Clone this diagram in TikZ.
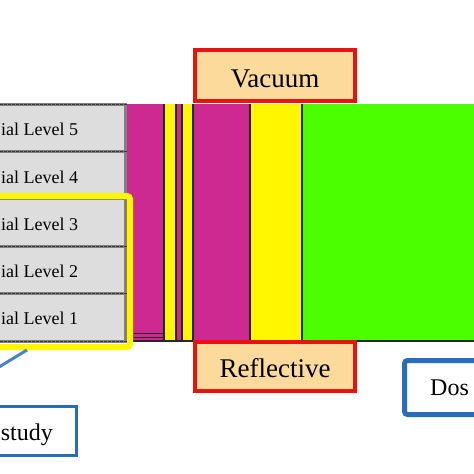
\documentclass[tikz,border=0pt]{standalone}
\usepackage{fontspec}
\setmainfont{Liberation Serif}
\definecolor{mag}{RGB}{205,42,145}
\definecolor{yel}{RGB}{255,246,0}
\definecolor{grn}{RGB}{76,255,0}
\definecolor{greyF}{RGB}{221,221,221}
\definecolor{greyB}{RGB}{128,128,128}
\definecolor{orangeF}{RGB}{251,218,156}
\definecolor{redB}{RGB}{232,18,16}
\definecolor{blueB}{RGB}{42,108,188}
\definecolor{sepC}{RGB}{55,55,55}
\begin{document}
\begin{tikzpicture}[x=1pt,y=-1pt,
  levelbox/.style={draw=greyB, line width=3pt, fill=greyF, minimum width=180pt, minimum height=47.4pt, inner sep=0pt, anchor=east},
  leveltxt/.style={anchor=base west, inner sep=0pt, font=\fontsize{18}{20}\selectfont},
  sepline/.style={draw=sepC, line width=1pt, dash pattern=on 3pt off 1pt},
  layline/.style={draw=black!85, line width=1.1pt},
  hlbox/.style={draw=yel, line width=6pt, rounded corners=3pt, inner sep=0pt},
  redbox/.style={draw=redB, line width=4pt, fill=orangeF, inner sep=0pt},
  bluebox/.style={draw=blueB, fill=white, inner sep=0pt},
  bigtxt/.style={anchor=base, inner sep=0pt, font=\fontsize{27}{30}\selectfont},
  medtxt/.style={inner sep=0pt, font=\fontsize{24}{28}\selectfont},
  conn/.style={draw=blueB!85!white, line width=3pt}
]
\useasboundingbox (0,0) rectangle (474,474);
\clip (0,0) rectangle (474,474);
\fill[white] (0,0) rectangle (474,474);

% layers
\fill[mag] (127,104) rectangle (164,341);
\fill[yel] (164,104) rectangle (176,341);
\fill[mag] (176,104) rectangle (182,341);
\fill[yel] (182,104) rectangle (193,341);
\fill[mag] (193,104) rectangle (250,341);
\fill[yel] (250,104) rectangle (302,341);
\fill[grn] (302,104) rectangle (480,341);
\foreach \xx in {164,176,182,193,250,302}
  \draw[layline] (\xx,104) -- (\xx,341);
\draw[layline] (127,333.5) -- (164,333.5);
\draw[layline] (127,337.5) -- (164,337.5);
\draw[layline] (127,341) -- (480,341);

% level boxes
\node[levelbox] (b5) at (127,127.7) {};
\node[levelbox] (b4) at (127,175.1) {};
\node[levelbox] (b3) at (127,222.5) {};
\node[levelbox] (b2) at (127,269.9) {};
\node[levelbox] (b1) at (127,317.3) {};
\foreach \b in {b5,b4,b3,b2,b1}
  \draw[sepline] ([yshift=-1.5pt]\b.north west) -- ([yshift=-1.5pt]\b.north east);
\draw[sepline] ([yshift=1.5pt]b1.south west) -- ([yshift=1.5pt]b1.south east);
\node[leveltxt] (t5) at (1,135) {ial Level 5};
\node[leveltxt] (t4) at (1,183) {ial Level 4};
\node[leveltxt] (t3) at (1,230) {ial Level 3};
\node[leveltxt] (t2) at (1,277) {ial Level 2};
\node[leveltxt] (t1) at (1,324.5) {ial Level 1};

% highlight
\node[hlbox, minimum width=206pt, minimum height=151pt] (hl) at (27,271.5) {};

% boundary labels
\node[redbox, minimum width=160pt, minimum height=51pt] (vac) at (275,75.5) {};
\node[bigtxt] (vactxt) at (275,87) {Vacuum};
\node[redbox, minimum width=160pt, minimum height=49pt] (ref) at (275,366.5) {};
\node[bigtxt] (reftxt) at (275,377) {Reflective};

% study box
\node[bluebox, line width=3pt, minimum width=280pt, minimum height=49pt] (study) at (-63.5,431) {};
\node[medtxt, anchor=base east] (studytxt) at (53,440) {study};
\draw[conn] (hl.south) -- (study.north);

% dose box
\node[bluebox, line width=5pt, rounded corners=3pt, minimum width=200pt, minimum height=54pt, anchor=north west] (dose) at (402,358) {};
\node[medtxt, anchor=base west] (dosetxt) at (430,395) {Dos};
\end{tikzpicture}
\end{document}
